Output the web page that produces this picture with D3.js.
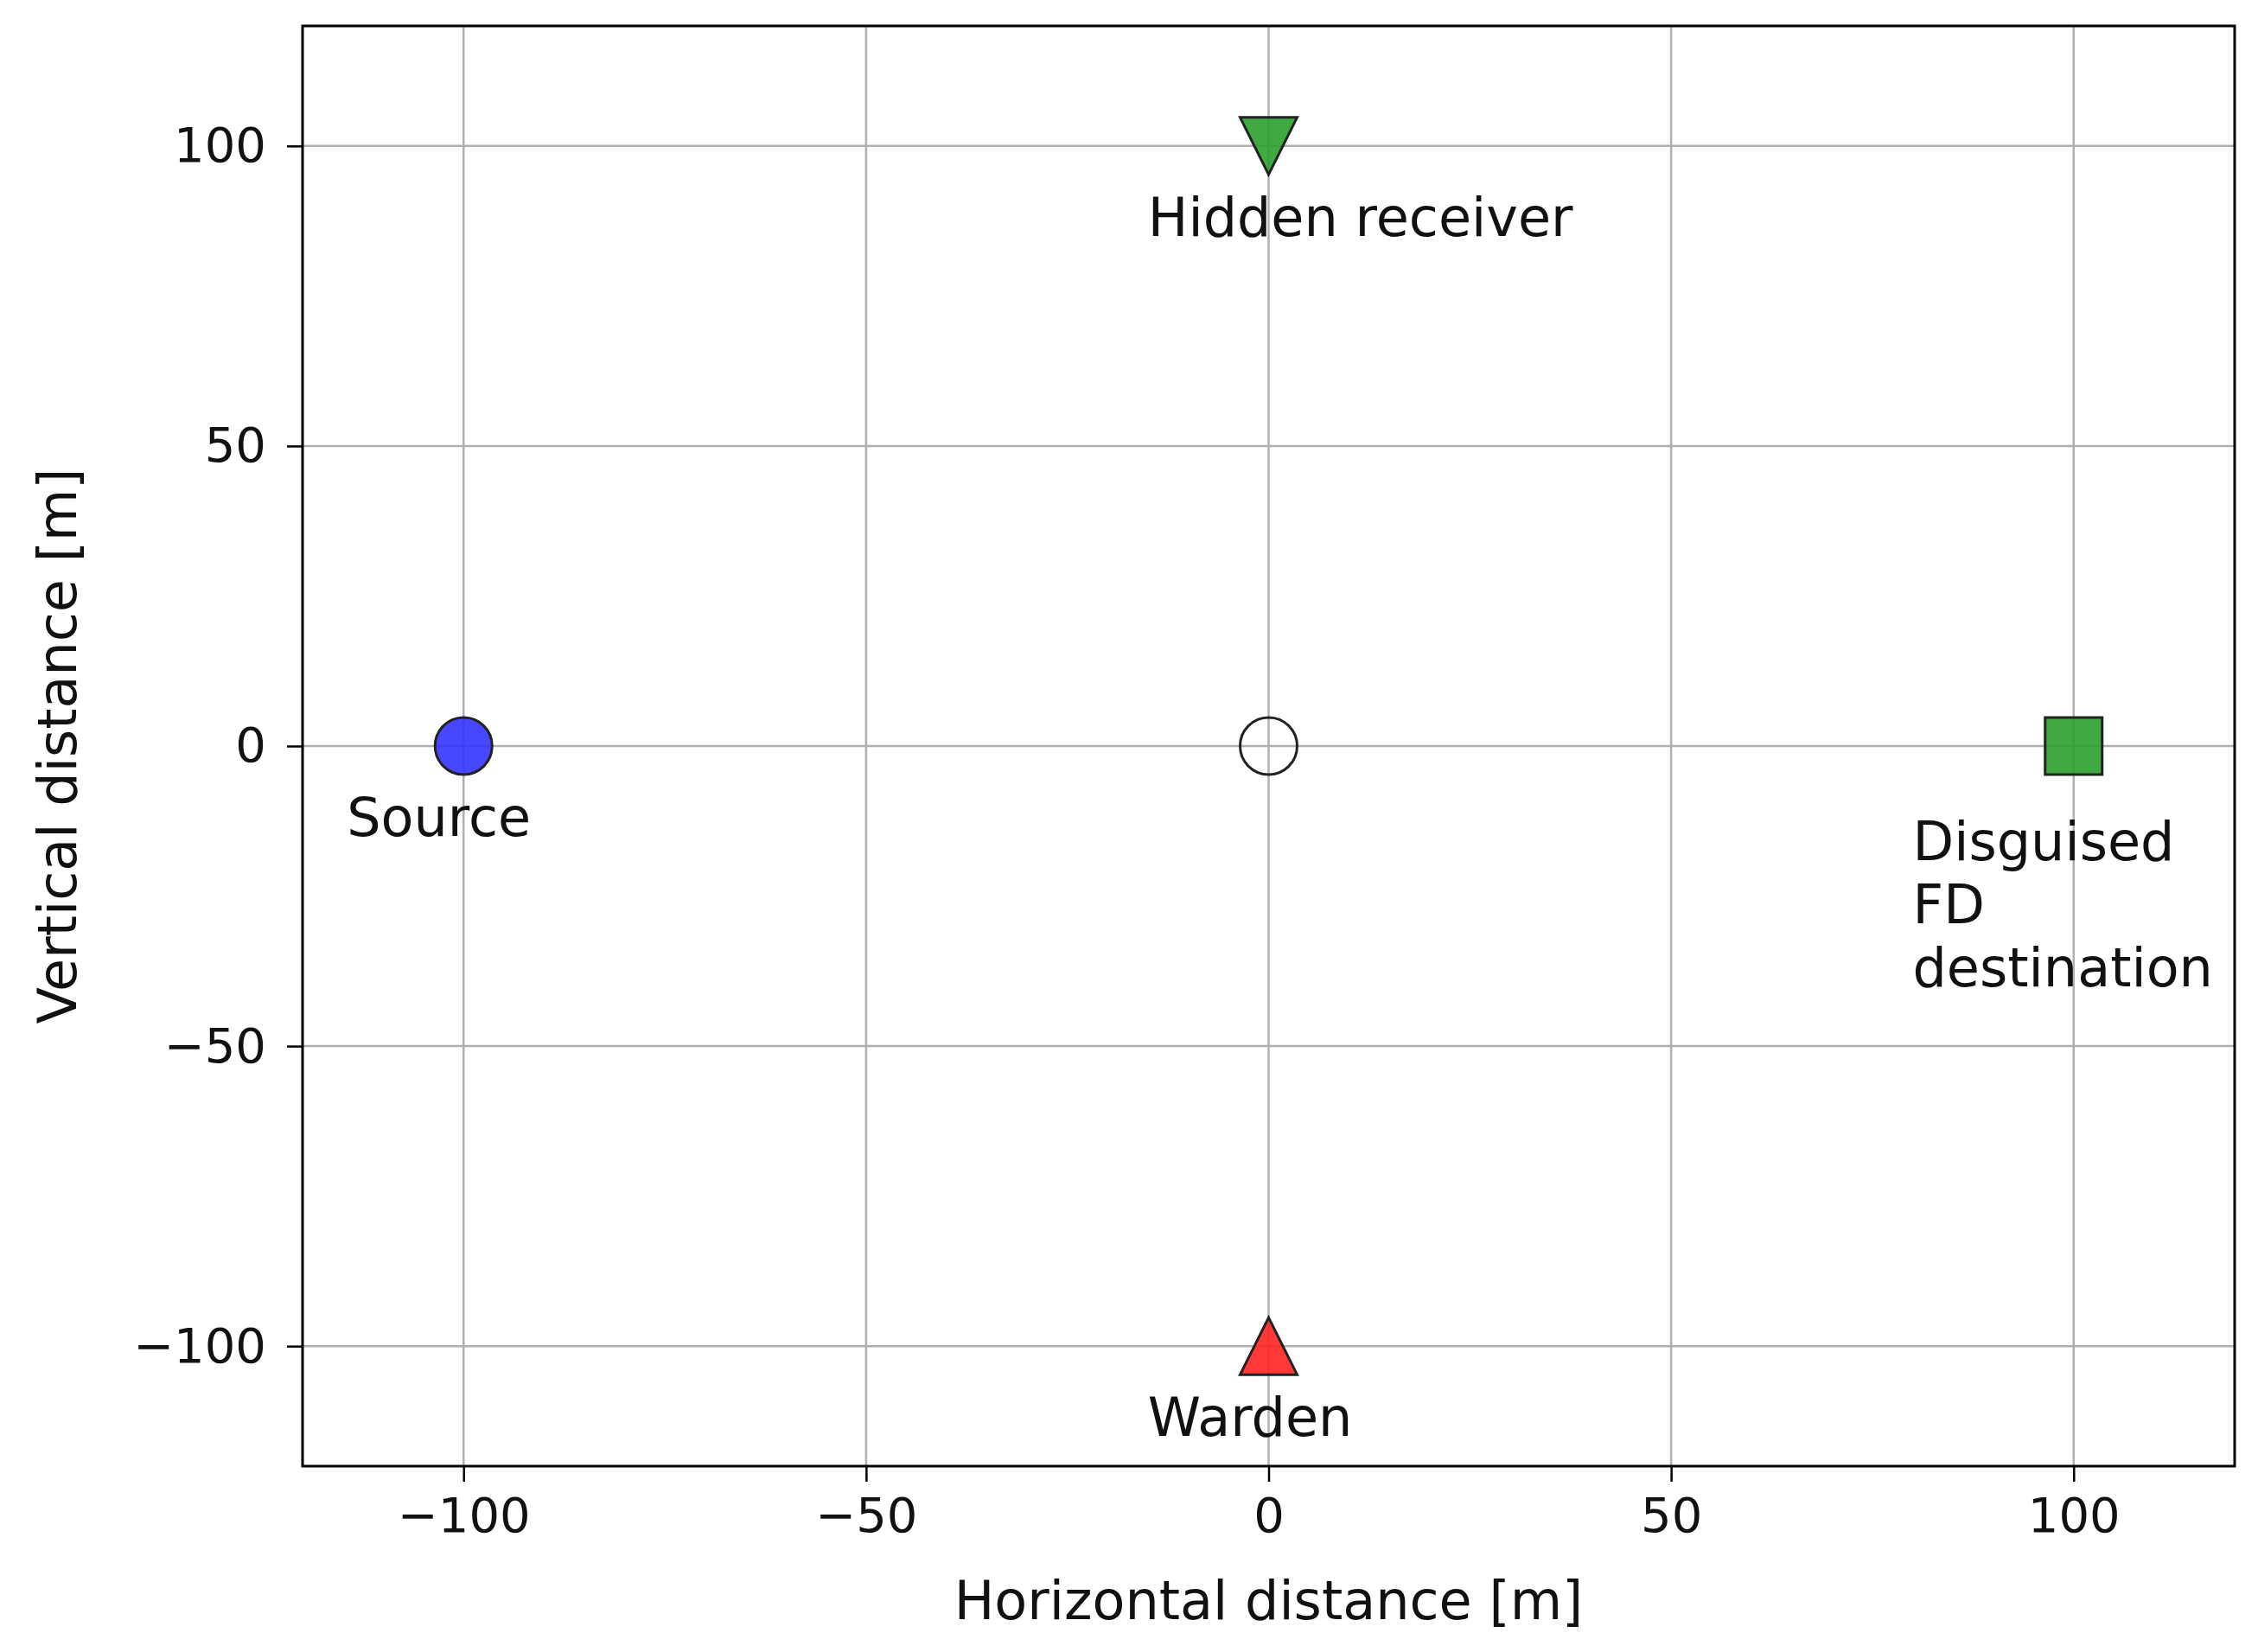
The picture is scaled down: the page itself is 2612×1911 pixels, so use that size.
<!DOCTYPE html>
<html><head><meta charset="utf-8">
<script src="https://cdn.jsdelivr.net/npm/d3@7"></script>
<style>body{margin:0;background:#fff}</style></head>
<body><svg id="c" width="2612" height="1911"></svg>
<script>
const xTicks=[-100,-50,0,50,100];
const yTicks=[-100,-50,0,50,100];
const names=["Source","Relay","Hidden receiver","Disguised FD destination","Warden"];
const px=[-100,0,0,100,0];
const py=[0,0,100,0,-100];
const shapes=["circle","circle","triDown","square","triUp"];
const fills=["#3333ff","none","#2ca02c","#2ca02c","#ff2222"];
const labelLines=[["Source"],[],["Hidden receiver"],["Disguised","FD","destination"],["Warden"]];
const labelX=[-114.5,0,-15,80,-15];
const labelY=[-15,0,85,-19,-115];

const W=2612,H=1911,L=350,R=2585,T=30,B=1696;
const svg=d3.select("#c");
const x=d3.scaleLinear().domain([-120,120]).range([L,R]);
const y=d3.scaleLinear().domain([-120,120]).range([B,T]);
const font="DejaVu Sans";
svg.append("g").selectAll("line").data(xTicks).join("line")
 .attr("x1",d=>x(d)).attr("x2",d=>x(d)).attr("y1",T).attr("y2",B).attr("stroke","#b0b0b0").attr("stroke-width",2.5);
svg.append("g").selectAll("line").data(yTicks).join("line")
 .attr("y1",d=>y(d)).attr("y2",d=>y(d)).attr("x1",L).attr("x2",R).attr("stroke","#b0b0b0").attr("stroke-width",2.5);
const fmt=d=>d<0?"\u2212"+Math.abs(d):""+d;
const gx=svg.append("g").attr("transform",`translate(0,${B})`).call(d3.axisBottom(x).tickValues(xTicks).tickFormat(fmt).tickSize(18).tickPadding(18));
const gy=svg.append("g").attr("transform",`translate(${L},0)`).call(d3.axisLeft(y).tickValues(yTicks).tickFormat(fmt).tickSize(18).tickPadding(24));
[gx,gy].forEach(g=>{g.select(".domain").remove();g.selectAll("line").attr("stroke","#000").attr("stroke-width",2.5);
 g.selectAll("text").attr("font-family",font).attr("font-size",56).attr("fill","#111");});
svg.append("rect").attr("x",L).attr("y",T).attr("width",R-L).attr("height",B-T).attr("fill","none").attr("stroke","#000").attr("stroke-width",3);
const r=33;
names.forEach((n,i)=>{
 const cx=x(px[i]),cy=y(py[i]);let s;
 if(shapes[i]=="circle") s=svg.append("circle").attr("cx",cx).attr("cy",cy).attr("r",r);
 else if(shapes[i]=="square") s=svg.append("rect").attr("x",cx-r).attr("y",cy-r).attr("width",2*r).attr("height",2*r);
 else if(shapes[i]=="triDown") s=svg.append("path").attr("d",`M${cx-r},${cy-r}L${cx+r},${cy-r}L${cx},${cy+r}Z`);
 else s=svg.append("path").attr("d",`M${cx-r},${cy+r}L${cx+r},${cy+r}L${cx},${cy-r}Z`);
 s.attr("fill",fills[i]=="none"?"#fff":fills[i]).attr("fill-opacity",fills[i]=="none"?0:0.9).attr("stroke","#222").attr("stroke-width",3);
 labelLines[i].forEach((t,j)=>svg.append("text").attr("x",x(labelX[i])).attr("y",y(labelY[i])+j*73)
  .attr("font-family",font).attr("font-size",62).attr("fill","#111").text(t));
});
svg.append("text").attr("x",(L+R)/2).attr("y",1873).attr("text-anchor","middle").attr("font-family",font).attr("font-size",62).attr("fill","#111").text("Horizontal distance [m]");
svg.append("text").attr("transform",`translate(88,${(T+B)/2}) rotate(-90)`).attr("text-anchor","middle").attr("font-family",font).attr("font-size",62).attr("fill","#111").text("Vertical distance [m]");
</script></body></html>
